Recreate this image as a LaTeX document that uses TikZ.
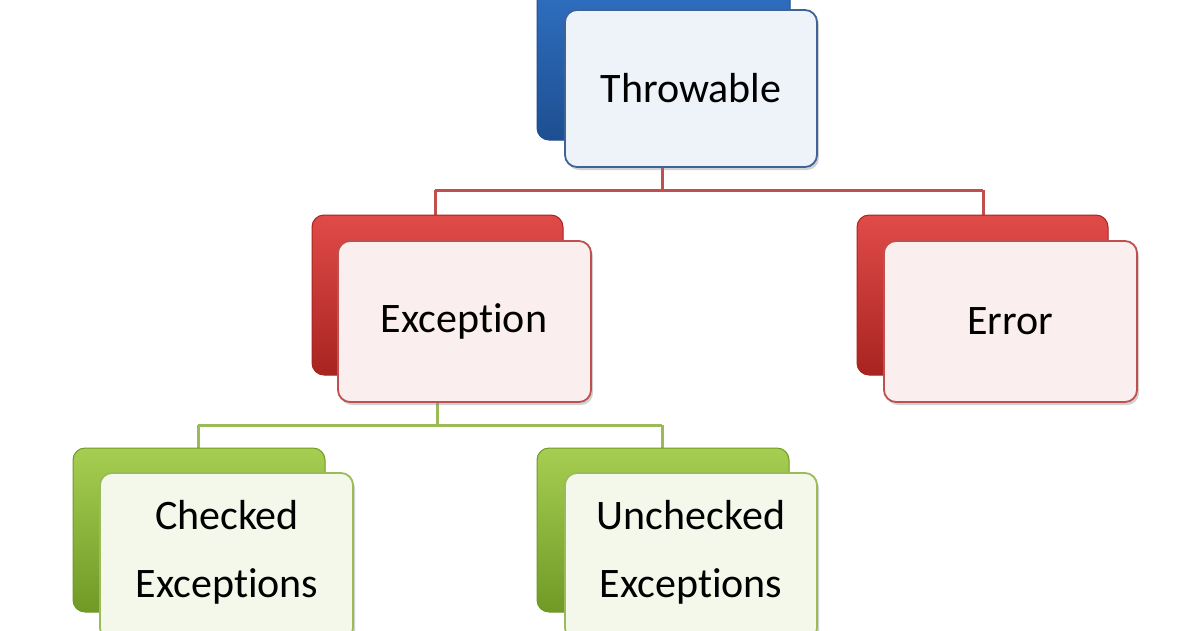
\documentclass[tikz,border=0pt]{standalone}
\usepackage{fontspec}
\setmainfont[Ligatures={NoCommon}]{Carlito}
\usetikzlibrary{shadows}
\definecolor{bA}{HTML}{2F6FC0}\definecolor{bB}{HTML}{1D4F91}\definecolor{bF}{HTML}{EEF3FA}\definecolor{bL}{HTML}{3C6496}
\definecolor{rA}{HTML}{E04B48}\definecolor{rB}{HTML}{A82420}\definecolor{rF}{HTML}{FBEEEE}\definecolor{rL}{HTML}{C0504D}
\definecolor{gA}{HTML}{A6CE52}\definecolor{gB}{HTML}{6F9A25}\definecolor{gF}{HTML}{F3F8EA}\definecolor{gL}{HTML}{9BBB59}
\tikzset{
 backbox/.style n args={2}{rounded corners=12pt, top color=#1, bottom color=#2, draw=#2, line width=1pt},
 frontbox/.style n args={2}{rounded corners=12pt, fill=#1, draw=#2, line width=1.8pt, drop shadow={opacity=0.35,shadow xshift=2pt,shadow yshift=-3pt}},
 lbl/.style={font=\fontsize{42}{68}\selectfont, align=center, text=black},
 conn/.style={line width=3pt}
}
\begin{document}
\begin{tikzpicture}[x=1pt,y=-1pt]
\useasboundingbox (0,0) rectangle (1200,630);
\fill[white] (0,0) rectangle (1200,630);
% connectors
\coordinate (tb) at (662,167);
\coordinate (r1) at (662,190);
\coordinate (r2) at (435,190);
\coordinate (r3) at (983,190);
\draw[conn,draw=rL] (tb) -- (r1) (r2) -- (r3) (r2) -- (435,215) (r3) -- (983,215);
\coordinate (eb) at (437,402);
\coordinate (g1) at (437,425);
\coordinate (g2) at (198,425);
\coordinate (g3) at (662,425);
\draw[conn,draw=gL] (eb) -- (g1) (g2) -- (g3) (g2) -- (198,448) (g3) -- (662,448);
% Throwable
\draw[backbox={bA}{bB}] (537,-12) rectangle (790,140);
\draw[frontbox={bF}{bL}] (565,10) rectangle (817,167);
\node[lbl] (thr) at (691,88) {Throwable};
% Exception
\draw[backbox={rA}{rB}] (312,215) rectangle (563,375);
\draw[frontbox={rF}{rL}] (338,241) rectangle (591,402);
\node[lbl] (exc) at (464,321) {Exception};
% Error
\draw[backbox={rA}{rB}] (857,215) rectangle (1108,375);
\draw[frontbox={rF}{rL}] (884,241) rectangle (1137,402);
\node[lbl] (err) at (1010,321) {Error};
% Checked
\draw[backbox={gA}{gB}] (73,448) rectangle (325,612);
\draw[frontbox={gF}{gL}] (100,473) rectangle (353,640);
\node[lbl] (chk) at (227,552) {Checked\\Exceptions};
% Unchecked
\draw[backbox={gA}{gB}] (537,448) rectangle (789,612);
\draw[frontbox={gF}{gL}] (565,473) rectangle (817,640);
\node[lbl] (unc) at (691,552) {Unchecked\\Exceptions};
\end{tikzpicture}
\end{document}
